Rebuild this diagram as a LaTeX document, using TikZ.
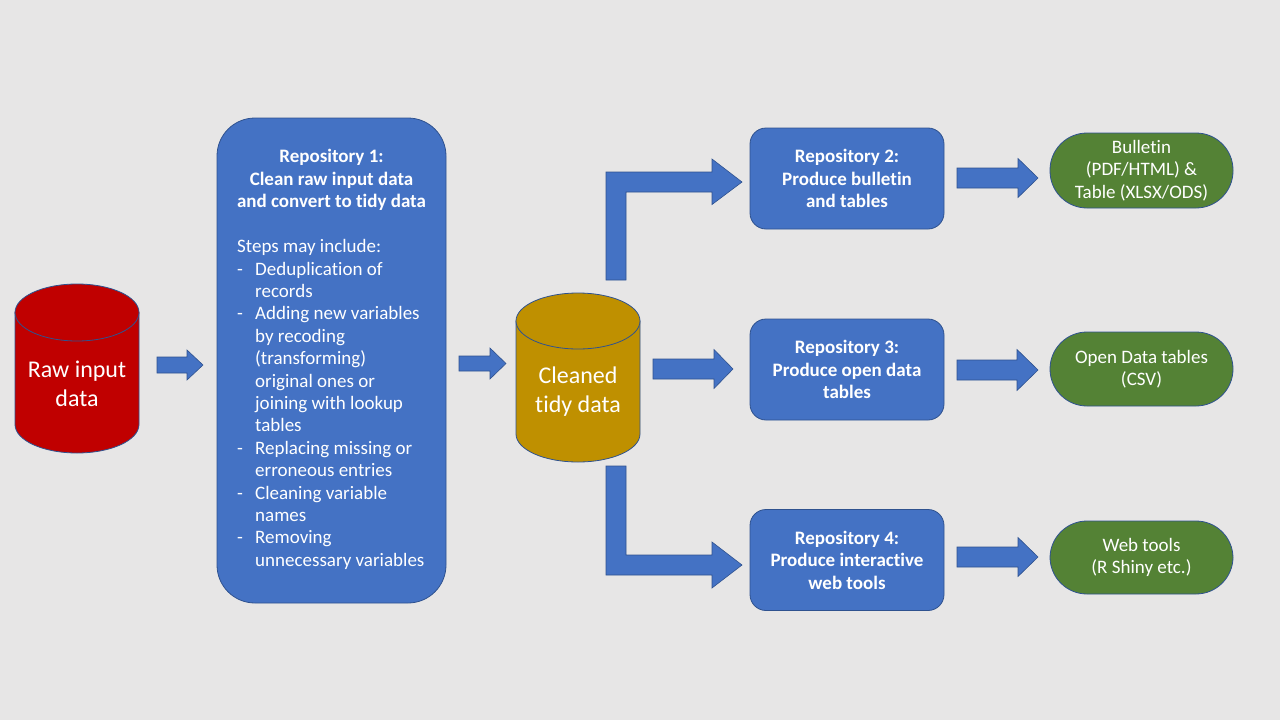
\documentclass[tikz,border=0pt]{standalone}
\usepackage{fontspec}
\setmainfont{Carlito}[Ligatures={NoCommon}]
\definecolor{bgc}{HTML}{E7E6E6}
\definecolor{blu}{HTML}{4472C4}
\definecolor{edg}{HTML}{2F528F}
\definecolor{redc}{HTML}{C00000}
\definecolor{gold}{HTML}{BF9000}
\definecolor{grn}{HTML}{548235}
\newcommand\myarrow[6]{% x0 x1 yc shafthalf headhalf headstart
  \filldraw[arrowstyle] (#1,#3-#4) -- (#6,#3-#4) -- (#6,#3-#5) -- (#2,#3) -- (#6,#3+#5) -- (#6,#3+#4) -- (#1,#3+#4) -- cycle;}
\tikzset{
  arrowstyle/.style={fill=blu, draw=edg, line width=0.6pt, line join=miter},
  repobox/.style={fill=blu, draw=edg, line width=0.8pt, rounded corners=16pt, minimum width=194pt, minimum height=101pt, align=center, text=white, font=\fontsize{19}{22.4}\selectfont\bfseries, inner sep=0pt},
  outbox/.style={fill=grn, draw=edg, line width=0.8pt, rounded corners=37pt, minimum width=183pt, minimum height=74pt, align=center, text=white, font=\fontsize{19}{22.4}\selectfont, inner sep=0pt},
  cyltext/.style={text=white, align=center, font=\fontsize{24}{29}\selectfont, inner sep=0pt},
  bodytext/.style={text=white, inner sep=0pt, font=\fontsize{19}{22.4}\selectfont},
}
\begin{document}
\begin{tikzpicture}[x=1pt,y=-1pt]
\useasboundingbox (0,0) rectangle (1280,720);
\fill[bgc] (0,0) rectangle (1280,720);

% Raw input cylinder
\filldraw[fill=redc, draw=edg, line width=0.8pt] (15,312.5) -- (15,424.5) arc[start angle=180, end angle=0, x radius=62, y radius=28.5] -- (139,312.5) -- cycle;
\filldraw[fill=redc, draw=edg, line width=0.8pt] (77,312.5) ellipse[x radius=62, y radius=28.5];
\node[cyltext] (raw) at (77,383.5) {Raw input\\data};

% Cleaned cylinder
\filldraw[fill=gold, draw=edg, line width=0.8pt] (516,321) -- (516,434) arc[start angle=180, end angle=0, x radius=62, y radius=28] -- (640,321) -- cycle;
\filldraw[fill=gold, draw=edg, line width=0.8pt] (578,321) ellipse[x radius=62, y radius=28];
\node[cyltext] (clean) at (578,391.5) {Cleaned\\tidy data};

% Repository 1
\node[fill=blu, draw=edg, line width=0.8pt, rounded corners=38pt, minimum width=229pt, minimum height=485pt] (repo1) at (331.5,360.5) {};
\node[bodytext, align=center, font=\fontsize{19}{22.4}\selectfont\bfseries] (r1title) at (331.5,180) {Repository 1:\\Clean raw input data\\and convert to tidy data};
\node[bodytext, align=left, anchor=west] (r1list) at (237,404.5) {Steps may include:\\
\makebox[18pt][l]{-}Deduplication of\\
\hspace*{18pt}records\\
\makebox[18pt][l]{-}Adding new variables\\
\hspace*{18pt}by recoding\\
\hspace*{18pt}(transforming)\\
\hspace*{18pt}original ones or\\
\hspace*{18pt}joining with lookup\\
\hspace*{18pt}tables\\
\makebox[18pt][l]{-}Replacing missing or\\
\hspace*{18pt}erroneous entries\\
\makebox[18pt][l]{-}Cleaning variable\\
\hspace*{18pt}names\\
\makebox[18pt][l]{-}Removing\\
\hspace*{18pt}unnecessary variables};

% Repositories 2-4
\node[repobox] (repo2) at (847,178.5) {Repository 2:\\Produce bulletin\\and tables};
\node[repobox] (repo3) at (847,369.5) {Repository 3:\\Produce open data\\tables};
\node[repobox] (repo4) at (847,560) {Repository 4:\\Produce interactive\\web tools};

% Outputs
\node[outbox, minimum height=75pt] (out1) at (1141.5,170.5) {Bulletin\\(PDF/HTML) \&\\Table (XLSX/ODS)};
\node[outbox] (out2) at (1141.5,369) {Open Data tables\\(CSV)};
\node[outbox, minimum height=73pt] (out3) at (1141.5,557.5) {Web tools\\(R Shiny etc.)};

% Arrows
\myarrow{157}{203}{365}{8}{15}{187}
\myarrow{459}{506}{363.5}{7.5}{15.5}{490}
\myarrow{653}{733}{369}{10}{19.5}{714}
\myarrow{957}{1038}{178}{10}{19.5}{1018}
\myarrow{957}{1038}{370}{10}{20.5}{1017}
\myarrow{957}{1038}{557}{10}{19.5}{1018}

% Bent arrows
\filldraw[arrowstyle] (606,280) -- (606,172) -- (712,172) -- (712,159) -- (742,182) -- (712,204.5) -- (712,192) -- (626,192) -- (626,280) -- cycle;
\filldraw[arrowstyle] (606,466) -- (606,575) -- (712,575) -- (712,588) -- (742,565) -- (712,542) -- (712,555) -- (626,555) -- (626,466) -- cycle;
\end{tikzpicture}
\end{document}
